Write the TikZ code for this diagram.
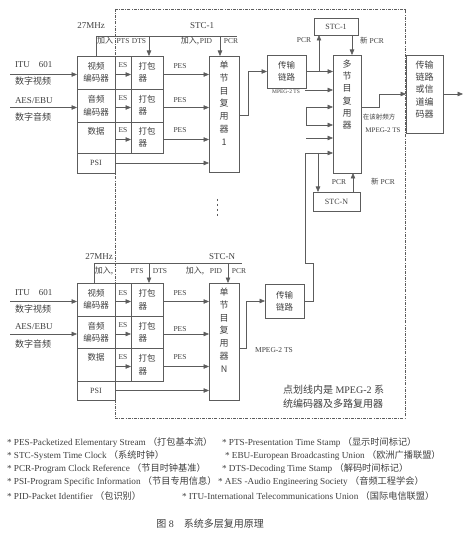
\documentclass[tikz,border=0pt]{standalone}
\usepackage{fontspec}
\setmainfont{Liberation Serif}
\newfontfamily\cjkfont{Noto Sans CJK SC}
\newcommand\zh[1]{{\cjkfont #1}}
\usetikzlibrary{arrows.meta,calc}
\definecolor{lncol}{gray}{0.36}
\definecolor{txcol}{gray}{0.25}
\newcommand\mybox[7][]{\node[boxst,#1,minimum width={#5pt-#3pt},minimum height={#6pt-#4pt}] (#2) at (#3,#4) {#7};}
\begin{document}
\begin{tikzpicture}[x=1pt,y=-1pt,line width=0.6pt,
  every node/.style={text=txcol,inner sep=0pt,outer sep=0pt},
  boxst/.style={draw=lncol,rectangle,anchor=north west,align=center,font=\fontsize{8.5}{12.5}\selectfont\cjkfont},
  lnst/.style={draw=lncol},
  arr/.style={draw=lncol,-{Triangle[length=5.5pt,width=4.5pt]}},
  dd/.style={draw=lncol,line width=0.5pt,dash pattern=on 3pt off 1.2pt on 0.8pt off 1.2pt},
  lbl/.style={font=\fontsize{7.5}{9}\selectfont},
  lblb/.style={font=\fontsize{9}{11}\selectfont},
  czs/.style={font=\fontsize{8}{10}\selectfont\cjkfont},
  czin/.style={font=\fontsize{9}{11}\selectfont\cjkfont,anchor=west},
  inl/.style={font=\fontsize{9}{11}\selectfont,anchor=west},
  czv/.style={font=\fontsize{9}{12.8}\selectfont\cjkfont,align=center,anchor=north},
  czv2/.style={font=\fontsize{9}{12.2}\selectfont\cjkfont,align=center,anchor=north},
  leg/.style={font=\fontsize{9.2}{10}\selectfont,anchor=west},
]
\useasboundingbox (0,0) rectangle (474,534);
\fill[white] (0,0) rectangle (474,534);

% dash-dot frame
\draw[dd] (115,9) rectangle (405,418);

% ================= programme 1 =================
\node[lblb] (mhz1) at (91,26) {27MHz};
\node[lblb] (stc1l) at (202,26) {STC-1};
\mybox{v1enc}{77}{56}{115}{89}{视频\\编码器}
\mybox{v1es}{115}{56}{131}{89}{}
\mybox[align=left]{v1pk}{131}{56}{163}{89}{打包\\器}
\mybox{a1enc}{77}{89}{115}{122}{音频\\编码器}
\mybox{a1es}{115}{89}{131}{122}{}
\mybox[align=left]{a1pk}{131}{89}{163}{122}{打包\\器}
\mybox{d1enc}{77}{122}{115}{153}{}
\mybox{d1es}{115}{122}{131}{153}{}
\mybox[align=left]{d1pk}{131}{122}{163}{153}{打包\\器}
\mybox[font=\fontsize{8}{10}\selectfont]{p1}{77}{153}{115}{173}{PSI}
\node[czs,font=\fontsize{8.5}{10}\selectfont\cjkfont] (d1t) at (96,131) {数据};
\node[lbl] (es1a) at (123,65) {ES};
\node[lbl] (es1b) at (123,98) {ES};
\node[lbl] (es1c) at (123,130) {ES};
\mybox{m1}{209}{56}{239}{172}{}
\node[czv] (m1t) at ($(m1.north)+(0,5)$) {单\\节\\目\\复\\用\\器\\1};

% control line
\coordinate (c1a) at (96,36);
\coordinate (c1b) at (237,36);
\draw[lnst] (c1a) -- (c1b);
\draw[lnst] (c1a) -- (c1a |- v1enc.north);
\coordinate (c1p) at (149,36);
\draw[arr] (c1p) -- (c1p |- v1pk.north);
\coordinate (c1m) at (220,36);
\draw[arr] (c1m) -- (c1m |- m1.north);
\node[czs] (t1a) at (105,41) {加入};
\node[lbl] (t1b) at (123,41) {PTS};
\node[lbl] (t1c) at (139,41) {DTS};
\node[czs] (t1d) at (190,41) {加入,};
\node[lbl] (t1e) at (206,41) {PID};
\node[lbl] (t1f) at (231,41) {PCR};

% inputs
\node[inl] (l1a) at (15,65) {ITU\hspace{9pt}601};
\node[czin] (l1b) at (15,81) {数字视频};
\node[inl] (l1c) at (15,101) {AES/EBU};
\node[czin] (l1d) at (15,117) {数字音频};
\coordinate (in1) at (10,74.5);
\draw[arr] (in1) -- (in1 -| v1enc.west);
\coordinate (in2) at (10,107.5);
\draw[arr] (in2) -- (in2 -| a1enc.west);

% ES and PES arrows
\foreach \rw in {v1,a1,d1}{
  \coordinate (\rw e) at ($(\rw es.west)+(0,2)$);
  \draw[arr] (\rw e) -- (\rw e -| \rw pk.west);
  \coordinate (\rw o) at ($(\rw pk.east)+(0,2)$);
  \draw[arr] (\rw o) -- (\rw o -| m1.west);
}
\draw[arr] (p1.east) -- (p1.east -| m1.west);
\node[lbl] (pe1a) at (180,66) {PES};
\node[lbl] (pe1b) at (180,100) {PES};
\node[lbl] (pe1c) at (180,130) {PES};

% transport link 1
\mybox{t1}{267}{55}{306}{88}{传输\\链路}
\node[font=\fontsize{5.5}{7}\selectfont] (ts1) at (286,92) {MPEG-2 TS};
\coordinate (m1o) at ($(m1.east)+(0,1)$);
\draw[arr] (m1o) -- ++(9,0) |- (t1.west);

% multi programme mux
\mybox{mm}{333}{55}{361}{173}{}
\node[czv2] (mmt) at ($(mm.north)+(0,5)$) {多\\节\\目\\复\\用\\器};
\mybox[font=\fontsize{8}{10}\selectfont]{s1}{314}{18}{358}{35}{STC-1}
\draw[arr] (t1.east) -- (t1.east -| mm.west);
\coordinate (b1) at ($(t1.east)+(13,0)$);
\draw[arr] (b1) -- (b1 |- s1.south);
\coordinate (s1d) at ($(s1.south)+(16,0)$);
\draw[arr] (s1d) -- (s1d |- mm.north);
\node[lbl] (pcr1) at (304,40) {PCR};
\node[lbl] (npcr1) at (372,41) {\zh{新} PCR};

\coordinate (i2) at (305,90);
\draw[arr] (i2) -- (i2 -| mm.west);
\coordinate (i3) at (306,107);
\coordinate (i4) at (306,125);
\draw[lnst] (i3) -- (i4);
\draw[arr] (i3) -- (i3 -| mm.west);
\draw[arr] (i4) -- (i4 -| mm.west);
\coordinate (i5) at (306,138);
\draw[arr] (i5) -- (i5 -| mm.west);

% final encoder
\mybox{fin}{406}{55}{443}{133}{}
\node[czv2] (fint) at ($(fin.north)+(0,6)$) {传输\\链路\\或信\\道编\\码器};
\coordinate (mmo) at ($(mm.east)+(0,-7)$);
\draw[arr] (mmo) -- ++(18,0) |- (fin.west);
\coordinate (fo) at (463,94);
\draw[arr] (fin.east) -- (fo);
\node[font=\fontsize{6.5}{8}\selectfont\cjkfont] (rf1) at (379,117) {在该射频方};
\node[lbl,font=\fontsize{7}{8}\selectfont] (rf2) at (383,130) {MPEG-2 TS};

% STC-N
\mybox[font=\fontsize{8}{10}\selectfont]{sN}{313}{192}{360}{211}{STC-N}
\coordinate (b2) at (318,153);
\draw[arr] (b2) -- (b2 |- sN.north);
\coordinate (sNu) at ($(sN.north)+(16.5,0)$);
\draw[arr] (sNu) -- (sNu |- mm.south);
\node[lbl] (pcrN) at (339,182) {PCR};
\node[lbl] (npcrN) at (383,182) {\zh{新} PCR};

% vertical dots
\draw[lnst,dash pattern=on 2pt off 3pt] (217,199) -- (217,218);

% ================= programme N =================
\node[lblb] (mhzN) at (99,257) {27MHz};
\node[lblb] (stcNl) at (222,257) {STC-N};
\mybox{vNenc}{77}{283}{115}{316}{视频\\编码器}
\mybox{vNes}{115}{283}{131}{316}{}
\mybox[align=left]{vNpk}{131}{283}{163}{316}{打包\\器}
\mybox{aNenc}{77}{316}{115}{348}{音频\\编码器}
\mybox{aNes}{115}{316}{131}{348}{}
\mybox[align=left]{aNpk}{131}{316}{163}{348}{打包\\器}
\mybox{dNenc}{77}{348}{115}{381}{}
\mybox{dNes}{115}{348}{131}{381}{}
\mybox[align=left]{dNpk}{131}{348}{163}{381}{打包\\器}
\mybox[font=\fontsize{8}{10}\selectfont]{pN}{77}{381}{115}{400}{PSI}
\node[czs,font=\fontsize{8.5}{10}\selectfont\cjkfont] (dNt) at (96,357) {数据};
\node[lbl] (esNa) at (123,293) {ES};
\node[lbl] (esNb) at (123,325) {ES};
\node[lbl] (esNc) at (123,357) {ES};
\mybox{mN}{209}{283}{239}{400}{}
\node[czv] (mNt) at ($(mN.north)+(0,5)$) {单\\节\\目\\复\\用\\器\\N};

\coordinate (cNa) at (94,263);
\coordinate (cNb) at (242,263);
\draw[lnst] (cNa) -- (cNb);
\draw[lnst] (cNa) -- (cNa |- vNenc.north);
\coordinate (cNp) at (149,263);
\draw[arr] (cNp) -- (cNp |- vNpk.north);
\coordinate (cNm) at (228,263);
\draw[arr] (cNm) -- (cNm |- mN.north);
\node[czs] (tNa) at (104,271) {加入,};
\node[lbl] (tNb) at (137,271) {PTS};
\node[lbl] (tNc) at (160,271) {DTS};
\node[czs] (tNd) at (195,271) {加入,};
\node[lbl] (tNe) at (216,271) {PID};
\node[lbl] (tNf) at (239,271) {PCR};

\node[inl] (lNa) at (15,293) {ITU\hspace{9pt}601};
\node[czin] (lNb) at (15,309) {数字视频};
\node[inl] (lNc) at (15,327) {AES/EBU};
\node[czin] (lNd) at (15,344) {数字音频};
\coordinate (inN1) at (10,301.5);
\draw[arr] (inN1) -- (inN1 -| vNenc.west);
\coordinate (inN2) at (10,334);
\draw[arr] (inN2) -- (inN2 -| aNenc.west);

\foreach \rw in {vN,aN,dN}{
  \coordinate (\rw e) at ($(\rw es.west)+(0,2)$);
  \draw[arr] (\rw e) -- (\rw e -| \rw pk.west);
  \coordinate (\rw o) at ($(\rw pk.east)+(0,2)$);
  \draw[arr] (\rw o) -- (\rw o -| mN.west);
}
\draw[arr] (pN.east) -- (pN.east -| mN.west);
\node[lbl] (peNa) at (180,293) {PES};
\node[lbl] (peNb) at (180,329) {PES};
\node[lbl] (peNc) at (180,357) {PES};

\mybox{tN}{265}{284}{304}{318}{传输\\链路}
\coordinate (mNo) at ($(mN.east)+(0,6.5)$);
\draw[arr] (mNo) -- ++(7,0) |- (tN.west);
\node[lbl] (tsN) at (274,350) {MPEG-2 TS};

\coordinate (j1) at (313,263);
\coordinate (j2) at (305,263);
\coordinate (i6) at (305,153);
\draw[arr] (tN.east) -| (j1) -- (j2) -- (i6) -- (i6 -| mm.west);

% note inside frame
\node[font=\fontsize{10}{12}\selectfont,anchor=west] (note1) at (283,390) {\zh{点划线内是} MPEG-2 \zh{系}};
\node[font=\fontsize{10}{12}\selectfont\cjkfont,anchor=west] (note2) at (283,404) {统编码器及多路复用器};

% legend
\node[leg] (g1) at (7,443) {* PES-Packetized Elementary Stream \zh{（打包基本流）}};
\node[leg] (g2) at (222,443) {* PTS-Presentation Time Stamp \zh{（显示时间标记）}};
\node[leg] (g3) at (7,456) {* STC-System Time Clock \zh{（系统时钟）}};
\node[leg] (g4) at (225,456) {* EBU-European Broadcasting Union \zh{（欧洲广播联盟）}};
\node[leg] (g5) at (7,469) {* PCR-Program Clock Reference \zh{（节目时钟基准）}};
\node[leg] (g6) at (222,469) {* DTS-Decoding Time Stamp \zh{（解码时间标记）}};
\node[leg] (g7) at (7,482) {* PSI-Program Specific Information \zh{（节目专用信息）}};
\node[leg] (g8) at (218,482) {* AES -Audio Engineering Society \zh{（音频工程学会）}};
\node[leg] (g9) at (7,496) {* PID-Packet Identifier \zh{（包识别）}};
\node[leg] (g10) at (182,496) {* ITU-International Telecommunications Union \zh{（国际电信联盟）}};

% caption
\node[font=\fontsize{10}{12}\selectfont] (cap) at (210,524) {\zh{图} 8\hspace{10pt}\zh{系统多层复用原理}};
\end{tikzpicture}
\end{document}
